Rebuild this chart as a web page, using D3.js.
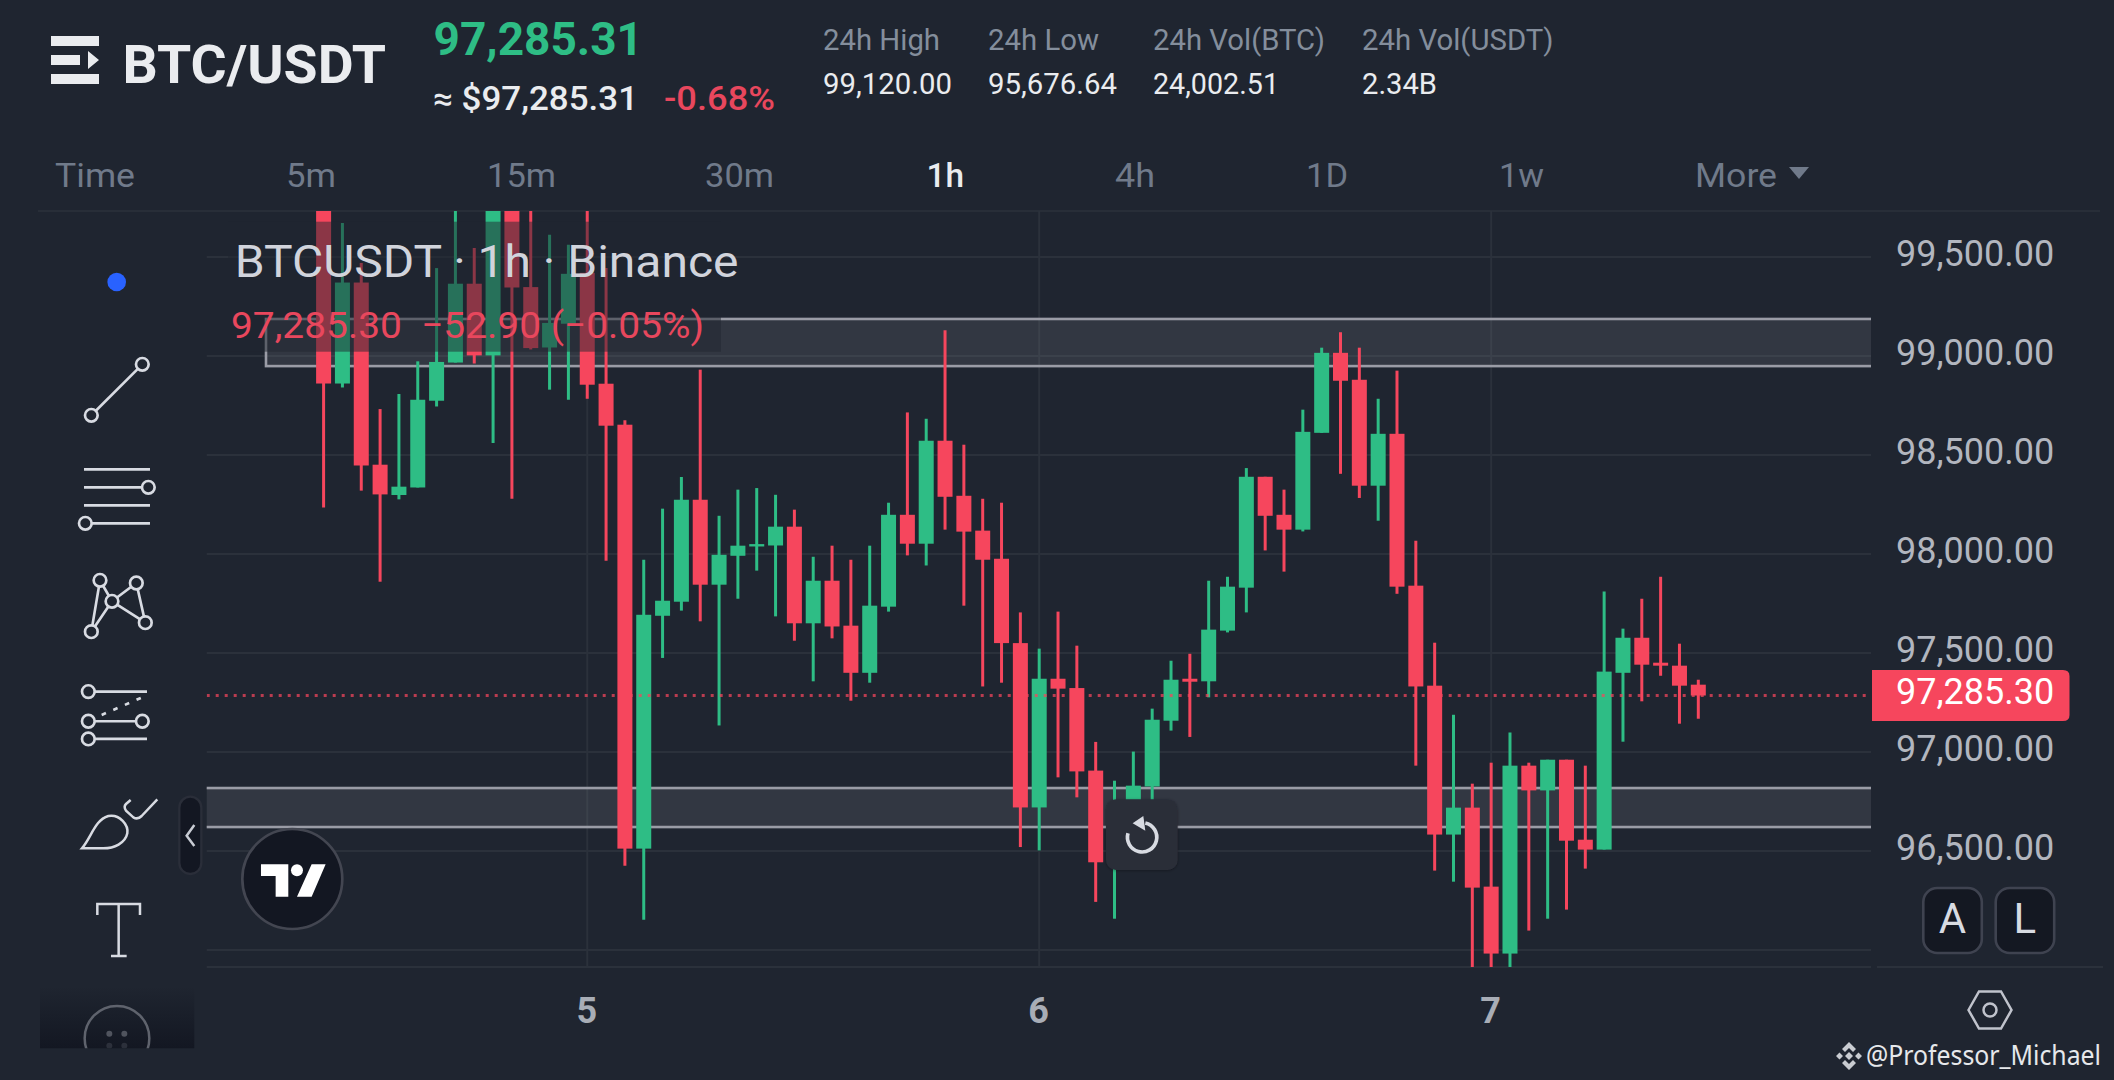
<html>
<head>
	<title>BTC/USDT 1h</title>
	<script src="https://d3js.org/d3.v7.min.js"></script>
	<style type="text/css">
		html, body { margin: 0; padding: 0; background: #1f2530; overflow: hidden; }
		svg { display: block; }
		text { font-family: Roboto, sans-serif; }
	</style>
</head>
<body>
<div id="chart"></div>

<script type="text/javascript">
// hourly candles
var opens = [99800,98861,99371,98451,98298,98336,98774,98967,99365,99003,99800,99348,99043,99163,99420,98860,98653,96512,97688,97759,98274,97845,97991,98038,98043,98138,97650,97865,97638,97400,97734,98198,98052,98572,98294,98118,97976,97550,96720,97370,97323,96906,96447,96730,96826,97158,97370,97357,97613,97830,98390,98198,98123,98612,99016,98880,98345,98607,97840,97335,96583,96719,96320,95982,96931,96806,96961,96557,96507,97400,97577,97451,97436,97340];
var highs = [99900,99672,99470,98732,98808,98973,99444,99800,99545,99900,99900,99800,99612,99562,99800,99444,98675,97971,98229,98389,98931,98193,98325,98333,98299,98224,97986,98042,97971,98042,98259,98715,98683,99130,98552,98279,98259,97705,97522,97709,97537,97051,96855,97002,97219,97461,97496,97865,97885,98434,98390,98325,98729,99042,99120,99042,98784,98926,98067,97552,97188,96840,96946,97098,96946,96961,96961,96931,97810,97623,97774,97885,97547,97365];
var lows = [98235,98841,98320,97860,98276,98336,98745,98967,98962,98561,98279,99033,98830,98779,98784,97966,96426,96153,97475,97714,97660,97134,97774,97916,97685,97562,97357,97574,97259,97350,97709,97993,97942,98123,97739,97331,97350,96520,96503,96872,96771,96243,96158,96730,96735,97108,97076,97276,97604,97705,98018,97911,98114,98612,98405,98283,98168,97799,96931,96401,96345,95850,95850,95676,96098,96158,96204,96411,96507,97052,97256,97385,97143,97168];
var closes = [98861,99371,98447,98301,98340,98779,98970,99365,99003,99800,99346,99040,99167,99415,98855,98648,96512,97693,97764,98274,97845,97996,98042,98050,98138,97650,97865,97634,97400,97739,98198,98052,98572,98289,98113,97971,97550,96720,97370,97320,96902,96443,96730,96830,97163,97365,97355,97618,97835,98390,98193,98123,98617,99016,98875,98345,98607,97835,97331,96583,96719,96315,95982,96931,96806,96961,96552,96507,97406,97577,97441,97436,97335,97285.3];

var lastPrice = 97285.30;
var gridPrices = [96000,96500,97000,97500,98000,98500,99000,99500];
var priceTicks = [96500,97000,97500,98000,98500,99000,99500];
var dayIndex = [14,38,62];
var dayLabels = ["5","6","7"];
var zoneTop = [99187,98949];
var zoneBottom = [96818,96621];

var tabs = ["Time","5m","15m","30m","1h","4h","1D","1w","More"];
var statLabels = ["24h High","24h Low","24h Vol(BTC)","24h Vol(USDT)"];
var statValues = ["99,120.00","95,676.64","24,002.51","2.34B"];

var width = 2114, height = 1080;
var plotLeft = 206.7, plotRight = 1871, plotTop = 211, plotBottom = 967;

var up = "#2ebd85", down = "#f6465d", bg = "#1f2530", gridColor = "#2b313b", iconColor = "#d8dbe2", zoneLine = "#9a9ca6";

var candles = d3.range(opens.length).map(function(i) {
	return {i: i, o: opens[i], h: highs[i], l: lows[i], c: closes[i]};
});

var x = d3.scaleLinear().domain([0, 73]).range([323.6, 1698.3]);
var y = d3.scaleLinear().domain([96000, 99500]).range([950, 257]);

var svg = d3.select("#chart").append("svg")
	.attr("width", width)
	.attr("height", height)
	.style("background", bg);

var defs = svg.append("defs");
defs.append("clipPath").attr("id", "plotClip").append("rect")
	.attr("x", plotLeft).attr("y", plotTop)
	.attr("width", plotRight - plotLeft).attr("height", plotBottom - plotTop);
var fade = defs.append("linearGradient").attr("id", "fade").attr("x1", 0).attr("y1", 0).attr("x2", 0).attr("y2", 1);
fade.append("stop").attr("offset", 0).attr("stop-color", bg);
fade.append("stop").attr("offset", 1).attr("stop-color", "#131722");
defs.append("clipPath").attr("id", "moreClip").append("rect")
	.attr("x", 0).attr("y", 740).attr("width", 463).attr("height", 185);
defs.append("filter").attr("id", "shadow").attr("x", "-30%").attr("y", "-30%").attr("width", "160%").attr("height", "160%")
	.append("feDropShadow").attr("dx", 0).attr("dy", 2).attr("stdDeviation", 5).attr("flood-color", "#000").attr("flood-opacity", 0.35);

// text squeezed to the width it has in the picture, a little wider for side bearings
function label(g, str, x0, x1, base, size, fill, weight) {
	return g.append("text")
		.attr("x", x0 - 1).attr("y", base)
		.attr("textLength", x1 - x0 + 2).attr("lengthAdjust", "spacingAndGlyphs")
		.attr("font-size", size).attr("font-weight", weight || 400)
		.attr("fill", fill).text(str);
}

/* header */
var head = svg.append("g");
head.append("path").attr("fill", "#eaecef")
	.attr("d", "M51 36H99V46H51Z M51 74H99V84H51Z M51 55H80V65H51Z M88 51L99 60L88 69Z");
label(head, "BTC/USDT", 123.5, 385, 83, 53, "#eaecef", 700);
label(head, "97,285.31", 434.5, 642, 55, 46, up, 700);
label(head, "\u2248 $97,285.31", 434, 637, 110, 33, "#eaecef", 500);
label(head, "-0.68%", 665, 774, 110, 33, "#e8475d", 500);

var statX0 = [824, 989, 1154, 1363], statX1 = [939, 1098, 1324, 1552.5], statValX1 = [951, 1116, 1278, 1436];
statLabels.forEach(function(s, i) {
	label(head, s, statX0[i], statX1[i], 50, 29, "#848e9c");
	label(head, statValues[i], statX0[i], statValX1[i], 93.5, 29, "#eaecef");
});

var tabX0 = [56, 287, 488, 706, 927.5, 1116, 1307, 1500, 1696], tabX1 = [134, 335, 555, 773, 963, 1154, 1347, 1543, 1776];
tabs.forEach(function(s, i) {
	label(head, s, tabX0[i], tabX1[i], 187, 34, s == "1h" ? "#eaecef" : "#707a8a", s == "1h" ? 500 : 400);
});
head.append("path").attr("fill", "#707a8a").attr("d", "M1789 167H1809L1799 179Z");
head.append("line").attr("x1", 38).attr("x2", 2100).attr("y1", 211).attr("y2", 211)
	.attr("stroke", "#282e38").attr("stroke-width", 2);

/* grid */
var grid = svg.append("g");
grid.selectAll(".h").data(gridPrices).enter().append("line")
	.attr("x1", plotLeft).attr("x2", plotRight)
	.attr("y1", function(d) { return y(d); }).attr("y2", function(d) { return y(d); })
	.attr("stroke", gridColor).attr("stroke-width", 2);
grid.selectAll(".v").data(dayIndex).enter().append("line")
	.attr("x1", function(d) { return x(d); }).attr("x2", function(d) { return x(d); })
	.attr("y1", plotTop).attr("y2", plotBottom)
	.attr("stroke", gridColor).attr("stroke-width", 2);
grid.append("line").attr("x1", plotLeft).attr("x2", plotRight).attr("y1", plotBottom).attr("y2", plotBottom)
	.attr("stroke", gridColor).attr("stroke-width", 2);
grid.append("line").attr("x1", 1877).attr("x2", 2103).attr("y1", plotBottom).attr("y2", plotBottom)
	.attr("stroke", gridColor).attr("stroke-width", 2);

/* plot: zones, candles, last price */
var plot = svg.append("g").attr("clip-path", "url(#plotClip)");

function zone(vals, left) {
	plot.append("rect")
		.attr("x", left).attr("y", y(vals[0]))
		.attr("width", plotRight + 10 - left).attr("height", y(vals[1]) - y(vals[0]))
		.attr("fill", "rgba(120,123,134,0.22)")
		.attr("stroke", zoneLine).attr("stroke-width", 2.6);
}
zone(zoneTop, 266);
zone(zoneBottom, plotLeft - 10);

var candle = plot.selectAll(".candle").data(candles).enter().append("g").attr("class", "candle");
candle.append("line")
	.attr("x1", function(d) { return x(d.i); }).attr("x2", function(d) { return x(d.i); })
	.attr("y1", function(d) { return y(d.h); }).attr("y2", function(d) { return y(d.l); })
	.attr("stroke", function(d) { return d.c >= d.o ? up : down; })
	.attr("stroke-width", 3);
candle.append("rect")
	.attr("x", function(d) { return x(d.i) - 7.5; })
	.attr("width", 15)
	.attr("y", function(d) { return y(Math.max(d.o, d.c)); })
	.attr("height", function(d) { return Math.abs(y(d.o) - y(d.c)); })
	.attr("fill", function(d) { return d.c >= d.o ? up : down; });

plot.append("line")
	.attr("x1", plotLeft).attr("x2", plotRight)
	.attr("y1", y(lastPrice)).attr("y2", y(lastPrice))
	.attr("stroke", down).attr("stroke-width", 3).attr("stroke-dasharray", "3 6").attr("opacity", 0.72);

/* legend over the plot */
var legend = svg.append("g");
legend.append("rect").attr("x", 228).attr("y", 221.7).attr("width", 493).attr("height", 130)
	.attr("fill", bg).attr("opacity", 0.5);
label(legend, "BTCUSDT \u00b7 1h \u00b7 Binance", 235.7, 737.5, 277, 45, "#d1d4dc");
label(legend, "97,285.30  \u221252.90 (\u22120.05%)", 232, 703, 337.5, 37, "#e8475d").attr("xml:space", "preserve");

/* axes */
var priceAxis = d3.axisRight(y)
	.tickValues(priceTicks)
	.tickFormat(d3.format(",.2f"))
	.tickSize(0)
	.tickPadding(0);
var priceG = svg.append("g").attr("transform", "translate(1896,0)").call(priceAxis);
priceG.select(".domain").remove();
priceG.selectAll("text")
	.attr("font-size", 36).attr("font-family", "Roboto, sans-serif")
	.attr("dy", 8.4).attr("fill", "#b2b6bf");

var dayAxis = d3.axisBottom(x)
	.tickValues(dayIndex)
	.tickFormat(function(d, i) { return dayLabels[i]; })
	.tickSize(0)
	.tickPadding(0);
var dayG = svg.append("g").attr("transform", "translate(-1,1023)").call(dayAxis);
dayG.select(".domain").remove();
dayG.selectAll("text")
	.attr("font-size", 36).attr("font-weight", 700).attr("font-family", "Roboto, sans-serif")
	.attr("y", 0).attr("dy", 0).attr("fill", "#a8adb6");

/* price tag */
svg.append("path").attr("fill", down)
	.attr("d", "M1872 670H2063Q2069.5 670 2069.5 676V715Q2069.5 721 2063 721H1872Z");
svg.append("text").attr("x", 1896).attr("y", y(lastPrice) + 8.5)
	.attr("font-size", 36).attr("fill", "#fff").text(d3.format(",.2f")(lastPrice));

/* A / L buttons */
[["A", 1923.3], ["L", 1995.7]].forEach(function(b) {
	svg.append("rect").attr("x", b[1]).attr("y", 888).attr("width", 58.5).attr("height", 65).attr("rx", 14)
		.attr("fill", "#141822").attr("stroke", "#3f4350").attr("stroke-width", 2.6);
	svg.append("text").attr("x", b[1] + 29.2).attr("y", 933).attr("text-anchor", "middle")
		.attr("font-size", 42).attr("fill", iconColor).text(b[0]);
});

/* settings hexagon */
svg.append("path").attr("fill", "none").attr("stroke", "#c0c3cc").attr("stroke-width", 2.5)
	.attr("d", "M1968.5 1010L1979 991.5H2001L2011.5 1010L2001 1028.5H1979Z");
svg.append("circle").attr("cx", 1990).attr("cy", 1010).attr("r", 6.5)
	.attr("fill", "none").attr("stroke", "#c0c3cc").attr("stroke-width", 2.5);

/* watermark */
svg.append("path").attr("fill", "#c9ccd1")
	.attr("d", "M1849 1042L1856 1049L1853 1052L1849 1048L1845 1052L1842 1049Z M1849 1070L1842 1063L1845 1060L1849 1064L1853 1060L1856 1063Z M1836 1056L1839.5 1052.5L1843 1056L1839.5 1059.5Z M1855 1056L1858.5 1052.5L1862 1056L1858.5 1059.5Z M1849 1052L1853 1056L1849 1060L1845 1056Z");
label(svg, "@Professor_Michael", 1867, 2100, 1065, 28, "#e6e8eb").style("font-family", "'Noto Sans'");

/* left toolbar, drawn in the 3x zoom grid of the picture */
var tools = svg.append("g").attr("transform", "translate(40,240) scale(0.3333)")
	.attr("fill", "none").attr("stroke", iconColor).attr("stroke-width", 8);
function dot(g, cx, cy, r) {
	g.append("circle").attr("cx", cx).attr("cy", cy).attr("r", r || 19).attr("fill", bg);
}
svg.append("circle").attr("cx", 116.7).attr("cy", 282).attr("r", 9.3).attr("fill", "#2962ff");

tools.append("path").attr("d", "M154 526L307 373");
dot(tools, 307, 373); dot(tools, 154, 526);

tools.append("path").attr("d", "M132 688H330M132 742H325M132 796H330M136 850H330");
dot(tools, 325, 742); dot(tools, 136, 850);

tools.append("path").attr("d", "M154 1175L180 1021L216 1084L154 1175M216 1084L289 1029L316 1148L216 1084");
dot(tools, 180, 1021); dot(tools, 289, 1029); dot(tools, 216, 1084); dot(tools, 316, 1148); dot(tools, 154, 1175);

tools.append("path").attr("d", "M145 1355H321M145 1444H307M145 1497H321");
tools.append("path").attr("d", "M185 1425L305 1373").attr("stroke-dasharray", "14 24");
dot(tools, 145, 1355); dot(tools, 145, 1444); dot(tools, 307, 1444); dot(tools, 145, 1497);

var tools2 = svg.append("g").attr("transform", "translate(40,740) scale(0.3333)")
	.attr("fill", "none").attr("stroke", iconColor).attr("stroke-width", 7.5);
tools2.append("path").attr("d", "M126 325C155 290 165 240 205 228C240 222 266 255 262 280C256 310 222 325 190 325Z");
tools2.append("path").attr("d", "M352 178L305 228Q293 240 280 232L258 212Q250 200 258 192L272 180");
tools2.append("path").attr("d", "M172 525V492H300V525M236 492V648M213 648H260");

// collapse pill
tools2.append("rect").attr("x", 418).attr("y", 170).attr("width", 66).attr("height", 232).attr("rx", 33)
	.attr("fill", "#131722").attr("stroke", "#2a2e39").attr("stroke-width", 7);
tools2.append("path").attr("d", "M463 255L440 287L463 318").attr("stroke", "#c8ccd4");

// faded "more" button
tools2.append("rect").attr("x", 0).attr("y", 740).attr("width", 463).attr("height", 185)
	.attr("fill", "url(#fade)").attr("stroke", "none");
var more = tools2.append("g").attr("clip-path", "url(#moreClip)");
more.append("circle").attr("cx", 231).attr("cy", 895).attr("r", 97).attr("stroke", "#5f636d");
[[208, 881, 1], [253, 881, 1], [208, 917, 0.4], [253, 917, 0.4]].forEach(function(p) {
	more.append("circle").attr("cx", p[0]).attr("cy", p[1]).attr("r", 9)
		.attr("stroke", "none").attr("fill", "#50545e").attr("opacity", p[2]);
});

// TradingView badge
tools2.append("circle").attr("cx", 757).attr("cy", 417).attr("r", 150)
	.attr("fill", "#131722").attr("stroke", "#434651").attr("stroke-width", 8);
tools2.append("path").attr("fill", "#fff").attr("stroke", "none")
	.attr("d", "M663 373H745V470H707V408H663Z M815 373H857L815 470H771Z");
tools2.append("circle").attr("cx", 771).attr("cy", 391).attr("r", 18).attr("fill", "#fff").attr("stroke", "none");

/* reset button */
var reset = svg.append("g").attr("transform", "translate(1000,640) scale(0.3333)");
reset.append("rect").attr("x", 318).attr("y", 478).attr("width", 215).attr("height", 212).attr("rx", 30)
	.attr("fill", "#2a2e39").attr("filter", "url(#shadow)");
reset.append("path").attr("fill", "none").attr("stroke", iconColor).attr("stroke-width", 11)
	.attr("d", "M436 549A44 44 0 1 1 384 580");
reset.append("path").attr("fill", iconColor).attr("d", "M430 528L398 550L436 572Z");
</script>
</body>
</html>
